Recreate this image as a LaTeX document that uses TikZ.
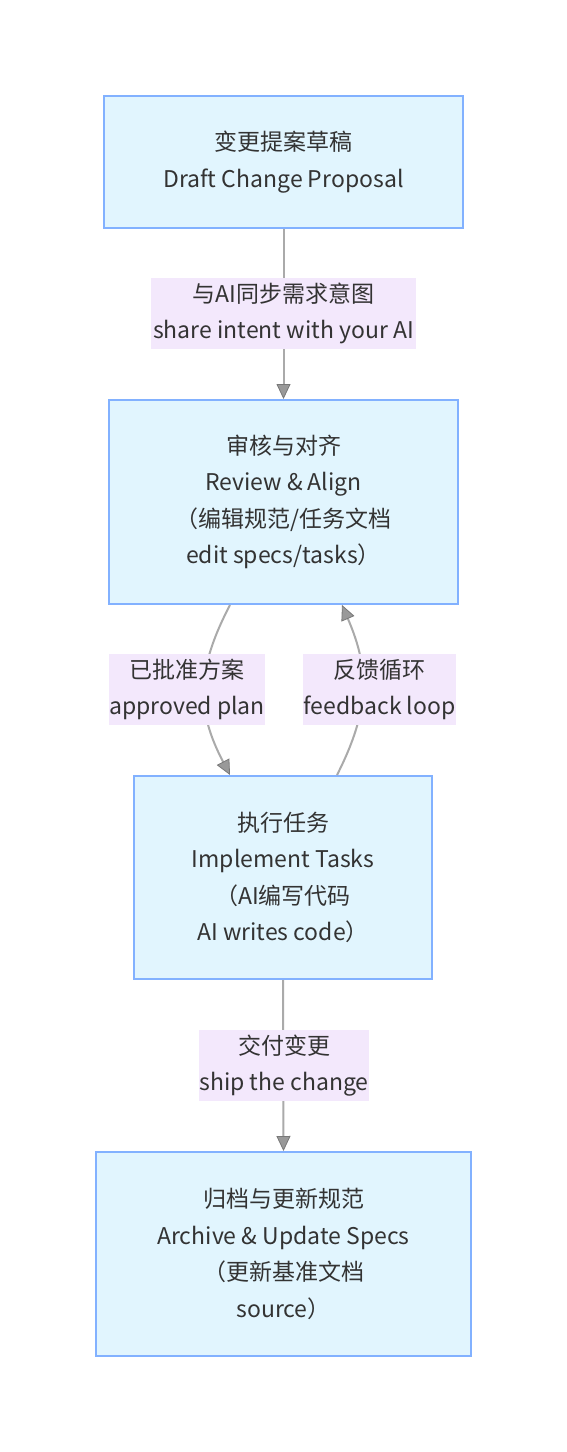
\documentclass[tikz,border=0pt]{standalone}
\usepackage{fontspec}
\setmainfont{Noto Sans CJK SC}
\usetikzlibrary{arrows.meta}
\definecolor{boxfill}{RGB}{225,245,254}
\definecolor{boxdraw}{RGB}{130,177,255}
\definecolor{lblfill}{RGB}{243,232,252}
\definecolor{txt}{RGB}{51,51,51}
\definecolor{edgec}{RGB}{170,170,170}
\definecolor{tipfill}{RGB}{153,153,153}
\definecolor{tipdraw}{RGB}{120,120,120}
\begin{document}
\begin{tikzpicture}[x=1pt,y=-1pt,
  box/.style={draw=boxdraw,fill=boxfill,line width=2pt,inner sep=0pt,align=center,text=txt,font=\fontsize{23}{36.5}\selectfont},
  lbl/.style={fill=lblfill,inner sep=0pt,align=center,text=txt,font=\fontsize{23}{36.5}\selectfont},
  flow/.style={draw=edgec,line width=2pt,-{Triangle[length=15pt,width=14pt,fill=tipfill,color=tipdraw,line width=0.8pt]}}]
\fill[white] (0,0) rectangle (567,1452);
\useasboundingbox (0,0) rectangle (567,1452);
\node[box,minimum width=359pt,minimum height=132pt] (b1) at (283.5,162) {变更提案草稿\\Draft Change Proposal};
\node[box,minimum width=349pt,minimum height=204pt] (b2) at (283.5,502) {审核与对齐\\Review \& Align\\（编辑规范/任务文档\\edit specs/tasks）};
\node[box,minimum width=298pt,minimum height=203pt] (b3) at (283,877.5) {执行任务\\Implement Tasks\\（AI编写代码\\AI writes code）};
\node[box,minimum width=375pt,minimum height=204pt] (b4) at (283.5,1254) {归档与更新规范\\Archive \& Update Specs\\（更新基准文档\\source）};
\draw[flow] (b1.south) -- (b2.north);
\draw[flow] ([xshift=-53.5pt]b2.south) .. controls (196,670) and (196,710) .. ([xshift=-53pt]b3.north);
\draw[flow] ([xshift=54pt]b3.north) .. controls (370,710) and (370,670) .. ([xshift=58.5pt]b2.south);
\draw[flow] (b3.south) -- (b4.north);
\node[lbl,minimum width=265pt,minimum height=71pt] (l1) at (283.5,313.5) {与AI同步需求意图\\share intent with your AI};
\node[lbl,minimum width=154pt,minimum height=71pt] (l2) at (187,689.5) {已批准方案\\approved plan};
\node[lbl,minimum width=151pt,minimum height=71pt] (l3) at (379.5,689.5) {反馈循环\\feedback loop};
\node[lbl,minimum width=170pt,minimum height=71pt] (l4) at (284,1065.5) {交付变更\\ship the change};
\end{tikzpicture}
\end{document}
